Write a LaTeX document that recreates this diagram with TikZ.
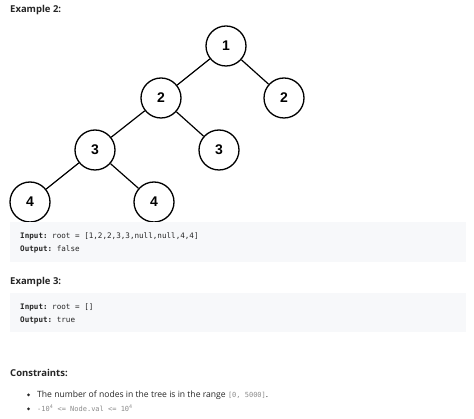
\documentclass[tikz,border=0pt]{standalone}
\usepackage{fontspec}
\setmainfont{Open Sans}
\setsansfont{Liberation Sans}
\setmonofont{DejaVu Sans Mono}
\usepackage{xcolor}
\usetikzlibrary{calc,positioning}
\definecolor{codebg}{HTML}{F7F8FA}
\definecolor{txt}{HTML}{262626}
\definecolor{inl}{HTML}{8C8C8C}
\tikzset{
  treenode/.style={
    draw,
    circle,
    line width=1.3pt,
    minimum size=40pt,
    inner sep=0pt,
    font=\sffamily\bfseries\fontsize{14}{14}\selectfont
  },
  heading/.style={anchor=base west,inner sep=0pt,text=txt,font=\bfseries\fontsize{9.5}{11}\selectfont},
  codeline/.style={anchor=base west,inner sep=0pt,text=txt,font=\ttfamily\fontsize{7.6}{9}\selectfont},
  codebox/.style={fill=codebg,draw=none},
  bulletline/.style={anchor=base west,inner sep=0pt,text=txt,font=\fontsize{8.6}{11}\selectfont}
}
\newcommand{\inlcode}[1]{{\color{inl}\ttfamily\fontsize{7}{9}\selectfont #1}}

\begin{document}
\begin{tikzpicture}[x=1pt,y=-1pt]
		\useasboundingbox (0,0) rectangle (474,419);
		\fill[white] (0,0) rectangle (474,419);
		% heading of example 2
		\node[heading] (ex2) at (10,13) {Example 2:};
		% tree
		\node[treenode] (n1) at (226,46) {1};
		\node[treenode] (n2a) at (161,98) {2};
		\node[treenode] (n2b) at (284,98) {2};
		\node[treenode] (n3a) at (95,150) {3};
		\node[treenode] (n3b) at (219,150) {3};
		\node[treenode] (n4a) at (30,202) {4};
		\node[treenode] (n4b) at (154,202) {4};
		\foreach \p/\c in {n1/n2a,n1/n2b,n2a/n3a,n2a/n3b,n3a/n4a,n3a/n4b} {
			\draw[line width=1.2pt] (\p) -- (\c);
		};
		% code boxes
		\fill[codebox] (10,222) rectangle (466,262);
		\node[codeline] (in2) at (20,238.5) {\textbf{Input:} root = [1,2,2,3,3,null,null,4,4]};
		\node[codeline] (out2) at (20,251.5) {\textbf{Output:} false};
		\node[heading] (ex3) at (10,285) {Example 3:};
		\fill[codebox] (10,293) rectangle (466,332);
		\node[codeline] (in3) at (20,309.5) {\textbf{Input:} root = []};
		\node[codeline] (out3) at (20,322.5) {\textbf{Output:} true};
		% constraints
		\node[heading] (cons) at (10,377) {Constraints:};
		\foreach \y/\t in {398/{The number of nodes in the tree is in the range \inlcode{[0, 5000]}.},
		                   412/{\inlcode{-10\textsuperscript{4} <= Node.val <= 10\textsuperscript{4}}}} {
			\fill[txt] (28.5,\y-3) circle (1.5pt);
			\node[bulletline] at (37,\y) {\t};
		};
	\end{tikzpicture}
\end{document}
